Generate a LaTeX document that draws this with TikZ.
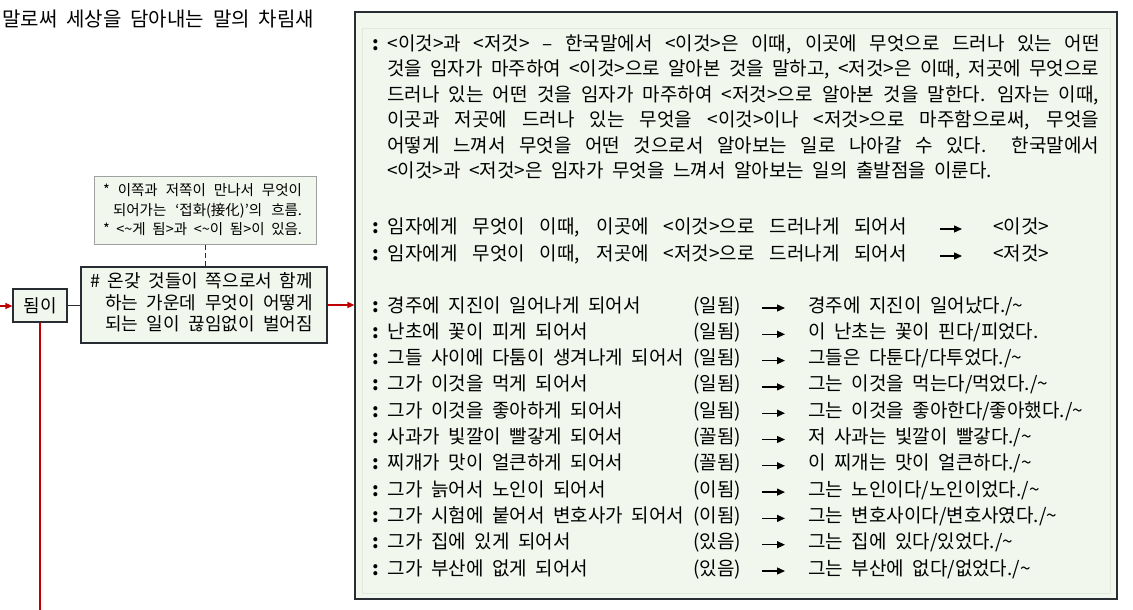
\documentclass[tikz,border=0pt]{standalone}
\usepackage{fontspec}
\setmainfont{Noto Sans CJK KR}[WordSpace=2]
\usetikzlibrary{arrows.meta}
\definecolor{boxfill}{RGB}{242,247,238}
\definecolor{boxline}{RGB}{40,45,52}
\definecolor{noteline}{RGB}{160,160,160}
\definecolor{flowred}{RGB}{192,0,0}
\definecolor{frameline}{RGB}{226,232,222}
\newcommand{\colonmark}{\textbf{:}\hspace{9pt}}

\begin{document}
\begin{tikzpicture}[x=1pt,y=-1pt]
    \tikzstyle{every node}=[inner sep=0pt, font=\fontsize{19}{23}\selectfont]
    \tikzstyle{box}=[draw=boxline, fill=boxfill, line width=1.2pt]
    \tikzstyle{note}=[draw=noteline, fill=boxfill, line width=1pt, align=left, font=\fontsize{14.5}{19.5}\selectfont]
    \tikzstyle{txt}=[anchor=west, text height=16pt, text depth=2pt]
    \tikzstyle{flow}=[draw=flowred, line width=1.2pt, -{Triangle[length=7pt,width=6pt]}]
    \tikzstyle{listarrow}=[line width=1.3pt, -{Triangle[length=8pt,width=7pt]}]
    \useasboundingbox (0,0) rectangle (1133,610);

    \node[txt, font=\fontsize{20}{24}\selectfont] (title) at (2,20) {말로써 세상을 담아내는 말의 차림새};

    % boxes
    \node[box, minimum width=762, minimum height=587] (main) at (736,305.5) {};
    \draw[frameline] (362,28) rectangle (1110,593);
    \node[box, minimum width=54, minimum height=33, font=\fontsize{18}{21}\selectfont] (doemi) at (40,305.5) {됨이};
    \node[box, minimum width=246, minimum height=76, align=left, text depth=7pt, font=\fontsize{18}{21.5}\selectfont] (hash) at (204,305)
        {\makebox[223pt][s]{\# 온갖 것들이 쪽으로서 함께}\hspace*{5pt}\\\hspace*{15pt}\makebox[208pt][s]{하는 가운데 무엇이 어떻게}\\\hspace*{15pt}\makebox[208pt][s]{되는 일이 끊임없이 벌어짐}};
    \node[note, minimum width=222, minimum height=68] (note) at (205,210)
        {\makebox[199pt][s]{* 이쪽과 저쪽이 만나서 무엇이}\hspace*{5pt}\\\hspace*{10pt}\makebox[189pt][s]{되어가는 ‘접화(接化)’의 흐름.}\\\makebox[199pt][s]{* <\textasciitilde{}게 됨>과 <\textasciitilde{}이 됨>이 있음.}};

    % connectors
    \coordinate (enter) at (0,306);
    \coordinate (bottom) at (40,610);
    \draw[flow] (enter) -- (enter -| doemi.west);
    \draw[boxline, line width=1.2pt] (doemi.east) -- (doemi.east -| hash.west);
    \draw[flowred, line width=1.2pt] (doemi.south) -- (bottom);
    \draw[flow] (hash.east) -- (hash.east -| main.west);
    \draw[boxline, line width=1pt, dash pattern=on 5pt off 3pt] (note.south) -- (note.south |- hash.north);

    % paragraph
    \node[txt] (par1) at (372,43.3) {\colonmark\makebox[712pt][s]{<이것>과 <저것> – 한국말에서 <이것>은 이때, 이곳에 무엇으로 드러나 있는 어떤}};
    \node[txt] (par2) at (387,68.8) {\makebox[712pt][s]{것을 임자가 마주하여 <이것>으로 알아본 것을 말하고, <저것>은 이때, 저곳에 무엇으로}};
    \node[txt] (par3) at (387,94.3) {\makebox[712pt][s]{드러나 있는 어떤 것을 임자가 마주하여 <저것>으로 알아본 것을 말한다. 임자는 이때,}};
    \node[txt] (par4) at (387,119.8) {\makebox[712pt][s]{이곳과 저곳에 드러나 있는 무엇을 <이것>이나 <저것>으로 마주함으로써, 무엇을}};
    \node[txt] (par5) at (387,145.3) {\makebox[712pt][s]{어떻게 느껴서 무엇을 어떤 것으로서 알아보는 일로 나아갈 수 있다. 한국말에서}};
    \node[txt] (par6) at (387,170.8) {<이것>과 <저것>은 임자가 무엇을 느껴서 알아보는 일의 출발점을 이룬다.};

    % two kinds
    \node[txt] (sub1) at (372,226) {\colonmark\makebox[519pt][s]{임자에게 무엇이 이때, 이곳에 <이것>으로 드러나게 되어서}};
    \node[txt] (subr1) at (993,226) {<이것>};
    \draw[listarrow] ([xshift=-53pt,yshift=-3pt]subr1.west) -- ([xshift=-31pt,yshift=-3pt]subr1.west);
    \node[txt] (sub2) at (372,253) {\colonmark\makebox[519pt][s]{임자에게 무엇이 이때, 저곳에 <저것>으로 드러나게 되어서}};
    \node[txt] (subr2) at (993,253) {<저것>};
    \draw[listarrow] ([xshift=-53pt,yshift=-3pt]subr2.west) -- ([xshift=-31pt,yshift=-3pt]subr2.west);

    % examples
    \foreach \cause/\kind/\result [count=\i] in {
        경주에 지진이 일어나게 되어서/(일됨)/{경주에 지진이 일어났다./\textasciitilde},
        난초에 꽃이 피게 되어서/(일됨)/{이 난초는 꽃이 핀다/피었다.},
        그들 사이에 다툼이 생겨나게 되어서/(일됨)/{그들은 다툰다/다투었다./\textasciitilde},
        그가 이것을 먹게 되어서/(일됨)/{그는 이것을 먹는다/먹었다./\textasciitilde},
        그가 이것을 좋아하게 되어서/(일됨)/{그는 이것을 좋아한다/좋아했다./\textasciitilde},
        사과가 빛깔이 빨갛게 되어서/(꼴됨)/{저 사과는 빛깔이 빨갛다./\textasciitilde},
        찌개가 맛이 얼큰하게 되어서/(꼴됨)/{이 찌개는 맛이 얼큰하다./\textasciitilde},
        그가 늙어서 노인이 되어서/(이됨)/{그는 노인이다/노인이었다./\textasciitilde},
        그가 시험에 붙어서 변호사가 되어서/(이됨)/{그는 변호사이다/변호사였다./\textasciitilde},
        그가 집에 있게 되어서/(있음)/{그는 집에 있다/있었다./\textasciitilde},
        그가 부산에 없게 되어서/(있음)/{그는 부산에 없다/없었다./\textasciitilde}} {
        \node[txt] (cause\i) at (372,{305+26.3*(\i-1)}) {\colonmark\cause};
        \node[txt] (kind\i) at (693,{305+26.3*(\i-1)}) {\kind};
        \node[txt] (result\i) at (808,{305+26.3*(\i-1)}) {\result};
        \draw[listarrow] ([xshift=-46pt,yshift=-3pt]result\i.west) -- ([xshift=-23pt,yshift=-3pt]result\i.west);
    }
\end{tikzpicture}
\end{document}
